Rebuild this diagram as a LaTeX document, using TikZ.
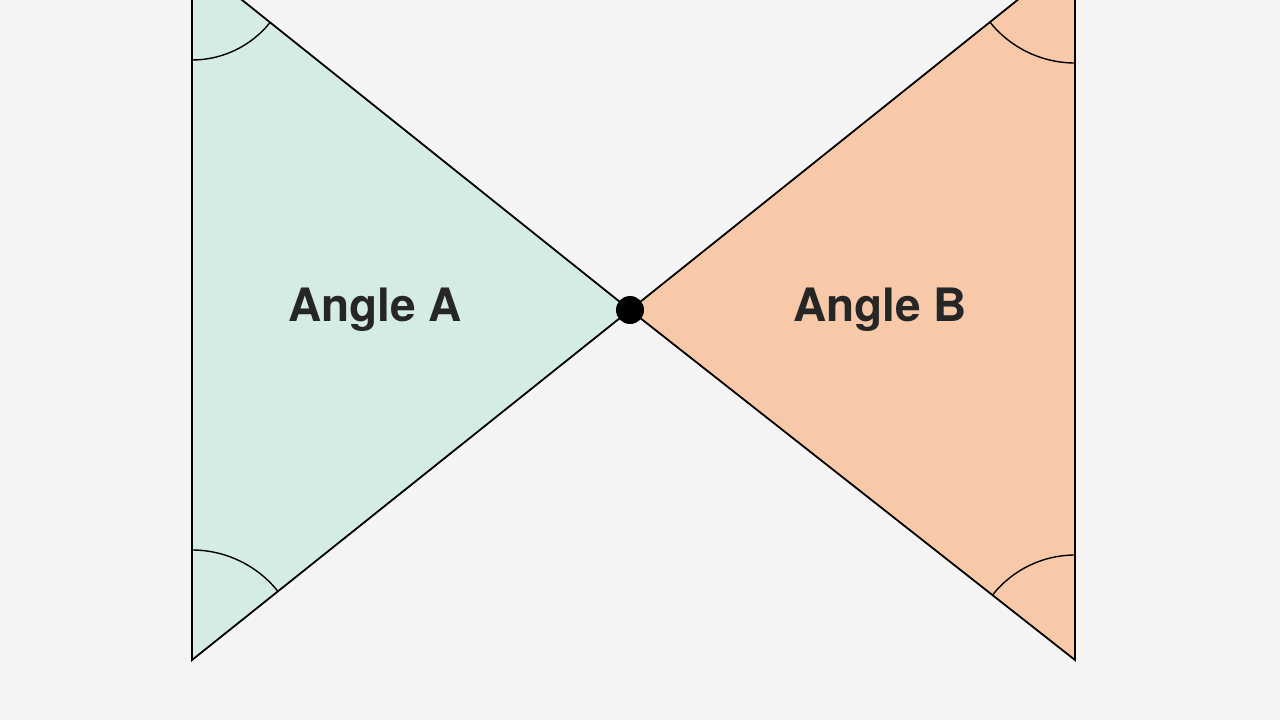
\documentclass[tikz,border=0pt]{standalone}
\usepackage{fontspec}
\setmainfont{TeX Gyre Heros}
\definecolor{bg}{HTML}{F4F4F4}
\definecolor{tealf}{HTML}{D4EBE6}
\definecolor{peach}{HTML}{F7C9A9}
\tikzset{tri/.style={draw=black,line width=1.8pt,line join=miter},
 arcline/.style={draw=black,line width=1.4pt},
 lbl/.style={font=\fontsize{46}{52}\selectfont\bfseries,text=black!85}}
\begin{document}
\begin{tikzpicture}[x=1pt,y=-1pt]
\fill[bg] (0,0) rectangle (1280,720);
\useasboundingbox (0,0) rectangle (1280,720);
\begin{scope}
\clip (0,0) rectangle (1280,720);
\coordinate (C) at (630,310);
\coordinate (A1) at (192,-40);
\coordinate (A2) at (192,660);
\coordinate (B1) at (1075,-46);
\coordinate (B2) at (1075,660);
\fill[tealf] (A1) -- (C) -- (A2) -- cycle;
\fill[peach] (B1) -- (C) -- (B2) -- cycle;
\draw[arcline] (192,60) arc[start angle=90,end angle=38.7,radius=100];
\draw[arcline] (192,550) arc[start angle=-90,end angle=-38.7,radius=110];
\draw[arcline] (1075,63) arc[start angle=90,end angle=141.3,radius=109];
\draw[arcline] (1075,555) arc[start angle=-90,end angle=-141.3,radius=105];
\draw[tri] (A1) -- (C) -- (A2) -- cycle;
\draw[tri] (B1) -- (C) -- (B2) -- cycle;
\end{scope}
\fill[black] (C) circle[radius=14];
\node[lbl] (la) at (375,310) {Angle A};
\node[lbl] (lb) at (880,310) {Angle B};
\end{tikzpicture}
\end{document}
